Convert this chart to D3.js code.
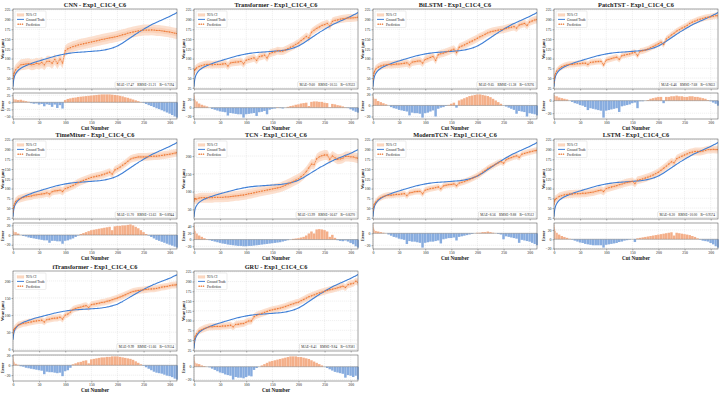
<!DOCTYPE html>
<html>
<head>
<meta charset="utf-8">
<script src="https://cdn.jsdelivr.net/npm/d3@7/dist/d3.min.js"></script>
<style>
  body { margin: 0; background: #fff; }
  svg text { font-family: "Liberation Serif", "Times New Roman", serif; fill: #222; }
</style>
</head>
<body>
<svg id="fig" width="720" height="396"></svg>
<script>
// ---- data ----
const MODELS = ["CNN", "Transformer", "BiLSTM", "PatchTST", "TimeMixer", "TCN", "ModernTCN", "LSTM", "iTransformer", "GRU"];
const EXPERIMENT = "Exp1_C1C4_C6";
const MAE  = [17.47, 9.60, 9.65, 6.46, 11.70, 13.99, 8.56, 8.30, 9.99, 8.41];
const RMSE = [21.21, 10.55, 11.38, 7.68, 13.63, 16.67, 9.88, 10.00, 11.66, 9.84];
const R2   = [0.7194, 0.9533, 0.9276, 0.9653, 0.8944, 0.8270, 0.9512, 0.9574, 0.9154, 0.9581];

const CUTS = [0, 1, 2, 3, 5, 10, 15, 20, 25, 30,
  35, 40, 45, 50, 55, 60, 65, 70, 75, 80,
  85, 90, 95, 100, 105, 110, 115, 120, 125, 130,
  135, 140, 145, 150, 155, 160, 165, 170, 175, 180,
  185, 190, 195, 200, 205, 210, 215, 220, 225, 230,
  235, 240, 245, 250, 255, 260, 265, 270, 275, 280,
  285, 290, 295, 300, 305, 310, 314];

const GROUND_TRUTH = [28, 42, 50, 55, 61, 70, 75, 79, 82, 85,
  87, 90, 92, 94, 96, 98, 100, 102, 104, 106,
  107.5, 109, 110.5, 112, 113, 114, 114.8, 115.5, 116, 116.5,
  117, 117.5, 118, 118.5, 119, 119.5, 120, 121, 122, 123.5,
  125, 127, 129.5, 132, 136, 140, 144.5, 149, 153.5, 158,
  162.5, 167, 171, 175, 179, 183, 186.5, 190, 193, 196,
  199, 202, 205, 208, 211.5, 215, 218];

// prediction error (prediction - ground truth), as in the lower panels
const ERR_CNN = [20, 14, 12, 10, 10, 8, 9, 6, 4, 2,
  -3, -5, -4, -8, -6, -14, -7, -9, -16, -8,
  -20, -10, -22, 8, 12, 14, 16, 17, 19, 20,
  21, 22, 23, 24, 25, 26, 27, 28, 28, 28,
  28, 27, 26, 25, 23, 21, 18, 16, 13, 10,
  7, 4, 1, -2, -6, -10, -13, -17, -21, -24,
  -28, -32, -36, -40, -45, -50, -54];
const ERR_TRANSFORMER = [32, 28, 22, 18, 15, 10, 7, 5, 3, 0,
  -3, -5, -7, -9, -10, -11, -19, -13, -14, -15,
  -16, -16, -24, -16, -15, -14, -13, -20, -11, -10,
  -8, -16, -5, -3, -2, 1, -1, -2, 0, 2,
  4, 5, 7, 8, 10, 11, 12, 4, 14, 15,
  15, 14, 14, 12, 11, 1, 9, 8, 6, 5,
  3, 1, -1, -4, -7, -10, -12];
const ERR_BILSTM = [18, 15, 13, 12, 12, 8, 6, 4, 2, 0,
  -3, -5, -6, -8, -9, -10, -11, -18, -13, -14,
  -14, -15, -22, -14, -13, -11, -9, -20, -6, -4,
  -3, -1, 1, 3, 5, -4, 9, 11, 13, 15,
  17, 18, 19, 20, 20, 19, 18, 17, 15, 12,
  9, 6, 3, 0, -2, -4, -6, -8, -15, -10,
  -11, -12, -20, -14, -15, -16, -18];
const ERR_PATCHTST = [10, 9, 8, 7, 7, 5, 4, 3, 2, 0,
  -2, -4, -5, -7, -8, -10, -15, -12, -13, -14,
  -15, -16, -27, -16, -15, -14, -13, -12, -18, -9,
  -8, -7, -6, -4, -3, -12, -1, -1, 0, 1,
  3, 4, 5, 6, 6, -4, 6, 6, 7, 7,
  8, 7, 7, 6, 6, 7, 7, 6, 6, 5,
  4, 3, 1, -1, -3, -5, -8];
const ERR_TIMEMIXER = [12, 9, 7, 6, 6, 3, 0, -2, -3, -5,
  -6, -7, -8, -9, -10, -11, -11, -16, -12, -12,
  -13, -13, -18, -12, -11, -9, -7, -4, -1, 2,
  4, 6, 8, 10, 11, 12, 13, 14, 15, 16,
  17, 10, 18, 19, 19, 20, 20, 21, 22, 20,
  17, 14, 10, 6, 2, -1, -4, -7, -10, -12,
  -14, -16, -18, -20, -22, -24, -26];
const ERR_TCN = [45, 38, 30, 25, 18, 12, 8, 4, 1, -2,
  -4, -6, -8, -10, -12, -13, -15, -16, -17, -18,
  -19, -19, -20, -20, -19, -19, -18, -17, -16, -15,
  -14, -13, -12, -11, -10, -9, -8, -6, -4, -2,
  0, 2, 3, 4, 6, 8, 12, 18, 24, 18,
  30, 31, 30, 28, 24, 8, 14, 5, -2, -4,
  -5, -3, -6, -10, -14, -20, -24];
const ERR_MODERNTCN = [15, 10, 8, 6, 4, 3, 2, 1, 0, -2,
  -4, -6, -7, -9, -10, -11, -18, -13, -14, -14,
  -15, -16, -24, -16, -15, -14, -14, -13, -12, -17,
  -10, -9, -8, -8, -7, -12, -6, -5, -4, -3,
  -2, -1, 0, 1, 1, 2, 2, 3, 2, 1,
  0, -1, -2, -10, -5, -6, -7, -8, -9, -16,
  -11, -12, -13, -14, -16, -18, -20];
const ERR_LSTM = [32, 26, 22, 18, 14, 10, 7, 5, 3, 1,
  -1, -3, -5, -7, -8, -10, -11, -12, -13, -13,
  -13, -13, -18, -12, -11, -10, -9, -8, -6, -5,
  -3, -2, -1, 0, -6, 2, 3, 4, 5, 6,
  7, 8, 9, 10, 11, 12, 13, 14, 15, 8,
  14, 13, 12, 11, 10, 9, 7, 5, 2, -1,
  -3, -4, -5, -8, -11, -15, -18];
const ERR_ITRANSFORMER = [18, 12, 8, 6, 3, 1, -2, -3, -5, -6,
  -7, -8, -9, -10, -11, -18, -13, -14, -14, -15,
  -16, -15, -22, -12, -10, -5, 2, 4, 6, 7,
  9, 10, 4, 12, 13, 14, 15, 16, 16, 17,
  17, 18, 18, 18, 17, 16, 15, 14, 13, 11,
  8, 5, 2, -1, -4, -7, -10, -13, -15, -16,
  -17, -19, -21, -22, -24, -27, -29];
const ERR_GRU = [15, 10, 8, 6, 5, 4, 2, 1, 0, -1,
  -3, -5, -7, -9, -10, -12, -13, -14, -20, -16,
  -17, -17, -18, -16, -14, -15, -5, -2, 0, 2,
  4, 6, 8, 9, 10, 11, 12, 13, 14, 15,
  16, 16, 16, 15, 15, 14, 13, 12, 10, 8,
  6, 4, 2, 0, -2, -4, -6, -8, -9, -10,
  -11, -17, -13, -14, -16, -14, -20];

const ERRORS = [ERR_CNN, ERR_TRANSFORMER, ERR_BILSTM, ERR_PATCHTST, ERR_TIMEMIXER,
  ERR_TCN, ERR_MODERNTCN, ERR_LSTM, ERR_ITRANSFORMER, ERR_GRU];

// 95% CI half width per model
const CI_HALF = [14, 10, 10, 8, 10, 14, 8, 10, 10, 9];

// axis limits / tick steps
const WEAR_LIMITS = [[22, 227], [22, 227], [22, 227], [22, 227], [22, 227],
  [23, 248], [22, 227], [22, 227], [-5, 229], [22, 227]];
const WEAR_STEP = [25, 25, 25, 25, 25, 50, 25, 25, 50, 25];
const ERR_STEP = [25, 20, 20, 20, 20, 20, 20, 20, 20, 20];
const X_TICKS = [0, 50, 100, 150, 200, 250, 300];

// ---- layout ----
const colLeft = [13, 194, 373, 554],
  rowTop = [9, 139, 271],
  W = 164, H = 80, GAP = 4, EH = 26

const BLUE = "#3f7fd6", ORANGE = "#ee7a36", CI_COLOR = "#fbd6bf",
  POS_BAR = "#f3a67c", NEG_BAR = "#7aa3dc"

const svg = d3.select("#fig")
const defs = svg.append("defs")

function stepTicks(lo, hi, step) {
  return d3.range(Math.ceil(lo / step) * step, hi + 1e-9, step)
}

MODELS.forEach((name, i) => {
  const left = colLeft[i % 4], top = rowTop[Math.floor(i / 4)]
  const g = svg.append("g").attr("transform", `translate(${left},${top})`)
  const err = ERRORS[i]
  const rows = CUTS.map((c, k) => ({
    cut: c, gt: GROUND_TRUTH[k], err: err[k], pred: GROUND_TRUTH[k] + err[k]
  }))

  const x = d3.scaleLinear().domain([0, 314]).range([0, W])
  const y = d3.scaleLinear().domain(WEAR_LIMITS[i]).range([H, 0])

  defs.append("clipPath").attr("id", `clip${i}`)
    .append("rect").attr("width", W).attr("height", H)

  // grid
  const yt = stepTicks(WEAR_LIMITS[i][0], WEAR_LIMITS[i][1], WEAR_STEP[i])
  const grid = g.append("g").attr("stroke", "#d4d4d4").attr("stroke-width", 0.35)
    .attr("stroke-dasharray", "1.2,0.8")
  grid.selectAll(".gy").data(yt).join("line")
    .attr("x1", 0).attr("x2", W).attr("y1", d => y(d)).attr("y2", d => y(d))
  grid.selectAll(".gx").data(X_TICKS).join("line")
    .attr("y1", 0).attr("y2", H).attr("x1", d => x(d)).attr("x2", d => x(d))

  const plot = g.append("g").attr("clip-path", `url(#clip${i})`)
  const hw = CI_HALF[i]

  plot.append("path").datum(rows)
    .attr("fill", CI_COLOR).attr("opacity", 0.75)
    .attr("d", d3.area().x(d => x(d.cut)).y0(d => y(d.pred - hw)).y1(d => y(d.pred + hw)))
  plot.append("path").datum(rows)
    .attr("fill", "#f8bf9c").attr("opacity", 0.45)
    .attr("d", d3.area().x(d => x(d.cut)).y0(d => y(d.pred - hw * 0.5)).y1(d => y(d.pred + hw * 0.5)))

  plot.append("path").datum(rows)
    .attr("fill", "none").attr("stroke", BLUE).attr("stroke-width", 1.1)
    .attr("d", d3.line().x(d => x(d.cut)).y(d => y(d.gt)).curve(d3.curveMonotoneX))

  plot.append("path").datum(rows)
    .attr("fill", "none").attr("stroke", ORANGE).attr("stroke-width", 0.7)
    .attr("stroke-dasharray", "2,0.8")
    .attr("d", d3.line().x(d => x(d.cut)).y(d => y(d.pred)))
  plot.selectAll(".mk").data(rows).join("circle")
    .attr("cx", d => x(d.cut)).attr("cy", d => y(d.pred)).attr("r", 0.65)
    .attr("fill", ORANGE)

  // frame + axes
  g.append("rect").attr("width", W).attr("height", H)
    .attr("fill", "none").attr("stroke", "#444").attr("stroke-width", 0.5)
  const ay = g.append("g").call(d3.axisLeft(y).tickValues(yt).tickSize(1.5).tickPadding(1))
  const ax = g.append("g").attr("transform", `translate(0,${H})`)
    .call(d3.axisBottom(x).tickValues(X_TICKS).tickSize(1.5).tickFormat(""))
  ;[ay, ax].forEach(a => {
    a.select(".domain").remove()
    a.selectAll("line").attr("stroke", "#444").attr("stroke-width", 0.4)
    a.selectAll("text").style("font-size", "3.8px").attr("fill", "#222")
  })

  g.append("text").attr("x", W / 2).attr("y", -2.5).attr("text-anchor", "middle")
    .style("font-size", "6.3px").style("font-weight", "bold")
    .text(`${name} - ${EXPERIMENT}`)
  g.append("text").attr("transform", `translate(-9.5,${H / 2}) rotate(-90)`)
    .attr("text-anchor", "middle").style("font-size", "4.3px").style("font-weight", "bold")
    .text("Wear (μm)")

  // legend
  const lg = g.append("g").attr("transform", "translate(2,2)")
  lg.append("rect").attr("width", 31).attr("height", 16.5).attr("rx", 1)
    .attr("fill", "#fff").attr("fill-opacity", 0.85).attr("stroke", "#cfcfcf").attr("stroke-width", 0.35)
  lg.append("rect").attr("x", 2).attr("y", 2.6).attr("width", 7).attr("height", 2.6)
    .attr("fill", CI_COLOR).attr("stroke", "#f5c3a3").attr("stroke-width", 0.2)
  lg.append("line").attr("x1", 2).attr("x2", 9).attr("y1", 8.4).attr("y2", 8.4)
    .attr("stroke", BLUE).attr("stroke-width", 1)
  lg.append("line").attr("x1", 2).attr("x2", 9).attr("y1", 13.2).attr("y2", 13.2)
    .attr("stroke", ORANGE).attr("stroke-width", 0.7).attr("stroke-dasharray", "1.6,0.7")
  ;[3.5, 5.5, 7.5].forEach(mx => lg.append("circle").attr("cx", mx).attr("cy", 13.2)
    .attr("r", 0.6).attr("fill", ORANGE))
  ;["95% CI", "Ground Truth", "Prediction"].forEach((t, k) => {
    lg.append("text").attr("x", 11).attr("y", 5.1 + k * 4.8)
      .style("font-size", "3.4px").text(t)
  })

  // metrics box
  const mt = g.append("text").attr("x", W - 3).attr("y", H - 3.2).attr("text-anchor", "end")
    .style("font-size", "3.4px").style("white-space", "pre")
    .text(`MAE=${MAE[i].toFixed(2)}    RMSE=${RMSE[i].toFixed(2)}    R²=${R2[i].toFixed(4)}`)
  const bb = mt.node().getBBox()
  g.insert("rect", () => mt.node())
    .attr("x", bb.x - 1.8).attr("y", bb.y - 1).attr("width", bb.width + 3.6).attr("height", bb.height + 2)
    .attr("rx", 1).attr("fill", "#fff").attr("fill-opacity", 0.9)
    .attr("stroke", "#bbb").attr("stroke-width", 0.35)

  // ---- error panel ----
  const eg = g.append("g").attr("transform", `translate(0,${H + GAP})`)
  const [emin, emax] = d3.extent(err)
  const epad = (emax - emin) * 0.06
  const ey = d3.scaleLinear().domain([emin - epad, emax + epad]).range([EH, 0])
  const et = stepTicks(emin - epad, emax + epad, ERR_STEP[i])

  const egrid = eg.append("g").attr("stroke", "#d4d4d4").attr("stroke-width", 0.35)
    .attr("stroke-dasharray", "1.2,0.8")
  egrid.selectAll(".gy").data(et).join("line")
    .attr("x1", 0).attr("x2", W).attr("y1", d => ey(d)).attr("y2", d => ey(d))
  egrid.selectAll(".gx").data(X_TICKS).join("line")
    .attr("y1", 0).attr("y2", EH).attr("x1", d => x(d)).attr("x2", d => x(d))

  const n = rows.length
  eg.selectAll(".bar").data(rows).join("rect")
    .attr("x", (d, k) => x(k > 0 ? (CUTS[k - 1] + d.cut) / 2 : d.cut))
    .attr("width", (d, k) => {
      const a = k > 0 ? (CUTS[k - 1] + d.cut) / 2 : d.cut
      const b = k < n - 1 ? (d.cut + CUTS[k + 1]) / 2 : d.cut + 2
      return Math.max(0.3, x(b) - x(a) - 0.15)
    })
    .attr("y", d => ey(Math.max(0, d.err)))
    .attr("height", d => Math.abs(ey(d.err) - ey(0)))
    .attr("fill", d => d.err >= 0 ? POS_BAR : NEG_BAR)
    .attr("opacity", 0.9)

  eg.append("line").attr("x1", 0).attr("x2", W).attr("y1", ey(0)).attr("y2", ey(0))
    .attr("stroke", "#777").attr("stroke-width", 0.45)
  eg.append("rect").attr("width", W).attr("height", EH)
    .attr("fill", "none").attr("stroke", "#444").attr("stroke-width", 0.5)

  const ey_ax = eg.append("g").call(d3.axisLeft(ey).tickValues(et).tickSize(1.5).tickPadding(1))
  const ex_ax = eg.append("g").attr("transform", `translate(0,${EH})`)
    .call(d3.axisBottom(x).tickValues(X_TICKS).tickSize(1.5).tickPadding(0.8))
  ;[ey_ax, ex_ax].forEach(a => {
    a.select(".domain").remove()
    a.selectAll("line").attr("stroke", "#444").attr("stroke-width", 0.4)
    a.selectAll("text").style("font-size", "3.8px").attr("fill", "#222")
  })

  eg.append("text").attr("transform", `translate(-9.5,${EH / 2}) rotate(-90)`)
    .attr("text-anchor", "middle").style("font-size", "4.3px").style("font-weight", "bold")
    .text("Error")
  eg.append("text").attr("x", W / 2).attr("y", EH + 10.5).attr("text-anchor", "middle")
    .style("font-size", "5.2px").style("font-weight", "bold")
    .text("Cut Number")
})
</script>
</body>
</html>
